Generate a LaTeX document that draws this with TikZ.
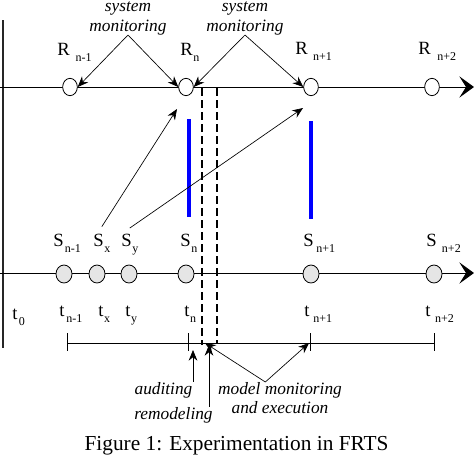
\documentclass[tikz,border=0pt]{standalone}
\usepackage{fontspec}
\setmainfont{Liberation Serif}
\usepackage{tikz}
\usetikzlibrary{arrows.meta,shapes.geometric}
\newcommand{\sublab}[3][0.5pt]{#2\hspace{#1}\raisebox{-5pt}{\fontsize{9}{9}\selectfont #3}}
\tikzset{
	rnode/.style={ellipse, draw, fill=white, line width=0.6pt, minimum width=11pt, minimum height=13pt, inner sep=0pt},
	snode/.style={ellipse, draw, fill=gray!20, line width=0.6pt, minimum width=12pt, minimum height=13.5pt, inner sep=0pt},
	lbl/.style={inner sep=0pt, font=\fontsize{14}{14}\selectfont, anchor=base west},
	note/.style={inner sep=0pt, font=\fontsize{13}{14.5}\selectfont\itshape, align=center},
	axis/.style={line width=0.7pt, -{Stealth[length=11pt,width=16pt,inset=5pt]}},
	arr/.style={line width=0.5pt, -{Stealth[length=8pt,width=6.5pt]}},
	thindash/.style={line width=1.1pt, dash pattern=on 6pt off 3pt},
	thickdash/.style={line width=2.2pt, dash pattern=on 6pt off 3pt},
	bluebar/.style={line width=3pt, blue}
}

\begin{document}
\begin{tikzpicture}[x=0.75pt, y=-0.75pt]
		\useasboundingbox (0,0) rectangle (474,457);
		
		%axes
		\coordinate (rstart) at (0,87);
		\coordinate (rend) at (474,87);
		\coordinate (sstart) at (0,273);
		\coordinate (send) at (474,273);
		\coordinate (tstart) at (67,343);
		\coordinate (tend) at (434,343);
		\draw[line width=2.2pt, black!85] (3,20) -- (3,348);
		\draw[axis] (rstart) -- (rend);
		\draw[axis] (sstart) -- (send);
		\draw[line width=0.7pt] (tstart) -- (tend);
		\foreach \x in {67,188,310,434}
			\draw[line width=0.7pt] (\x,333) -- (\x,351);
		
		%dashed lines
		\draw[thindash] (202,88) -- (202,345);
		\draw[thickdash] (217,88) -- (217,343);
		
		%blue bars
		\draw[bluebar] (189,119) -- (189,217);
		\draw[bluebar] (311,121) -- (311,219);
		
		\node[rnode] at (70,87) (rnm1) {};
		\node[rnode] at (186,87) (rn) {};
		\node[rnode] at (311,87) (rnp1) {};
		\node[rnode] at (432,87) (rnp2) {};
		
		\node[snode] at (64,274) (snm1) {};
		\node[snode] at (97,274) (sx) {};
		\node[snode] at (129,274) (sy) {};
		\node[snode] at (186,274) (sn) {};
		\node[snode] at (311,274) (snp1) {};
		\node[snode] at (434,274) (snp2) {};
		
		\node[lbl] at (57,55) (lRnm1) {\sublab[4.5pt]{R}{n-1}};
		\node[lbl] at (180,55) (lRn) {\sublab{R}{n}};
		\node[lbl] at (295,54) (lRnp1) {\sublab[4pt]{R}{n+1}};
		\node[lbl] at (418,54) (lRnp2) {\sublab[5pt]{R}{n+2}};
		
		\node[lbl] at (53,246) (lSnm1) {\sublab[1pt]{S}{n-1}};
		\node[lbl] at (93,246) (lSx) {\sublab{S}{x}};
		\node[lbl] at (121,246) (lSy) {\sublab{S}{y}};
		\node[lbl] at (180,246) (lSn) {\sublab{S}{n}};
		\node[lbl] at (303,246) (lSnp1) {\sublab[2pt]{S}{n+1}};
		\node[lbl] at (426,246) (lSnp2) {\sublab[4pt]{S}{n+2}};
		
		\node[lbl] at (12,319) (lt0) {\sublab[1pt]{t}{0}};
		\node[lbl] at (59,316) (ltnm1) {\sublab[1.5pt]{t}{n-1}};
		\node[lbl] at (98,316) (ltx) {\sublab{t}{x}};
		\node[lbl] at (125,316) (lty) {\sublab{t}{y}};
		\node[lbl] at (184,316) (ltn) {\sublab{t}{n}};
		\node[lbl] at (304,316) (ltnp1) {\sublab[3pt]{t}{n+1}};
		\node[lbl] at (425,316) (ltnp2) {\sublab[3.5pt]{t}{n+2}};
		
		\node[note, anchor=south] at (128,35) (sm1) {system\\monitoring};
		\node[note, anchor=south] at (245,35) (sm2) {system\\monitoring};
		\node[note, anchor=base] at (163.5,394) (aud) {auditing};
		\node[note, anchor=base] at (173.5,419) (rem) {remodeling};
		\node[note, anchor=north] at (280,382) (mm) {model monitoring\\and execution};
		
		\node[font=\fontsize{16}{16}\selectfont, anchor=base] at (236.5,450) (caption) {Figure 1: Experimentation in FRTS};
		
		\coordinate (rntip) at (177,109);
		\coordinate (rnp1tip) at (303,108);
		\coordinate (audtip) at (193,350);
		\coordinate (remtip) at (209,345);
		\coordinate (mmtip1) at (205,343);
		\coordinate (mmtip2) at (309,343);
		
		%Lines
		\draw[arr] (sm1.south) -- (rnm1.east);
		\draw[arr] (sm1.south) -- (rn.west);
		\draw[arr] (sm2.south) -- (rn.east);
		\draw[arr] (sm2.south) -- (rnp1.west);
		
		\draw[arr] ([yshift=5pt]lSx.north) -- (rntip);
		\draw[arr] ([yshift=4pt]lSy.north) -- (rnp1tip);
		
		\draw[arr] (aud.north east -| audtip) -- (audtip);
		\draw[arr] (rem.north -| remtip) -- (remtip);
		\draw[arr] ([xshift=-11pt]mm.north) -- (mmtip1);
		\draw[arr] ([xshift=-11pt]mm.north) -- (mmtip2);
		
	\end{tikzpicture}
\end{document}
